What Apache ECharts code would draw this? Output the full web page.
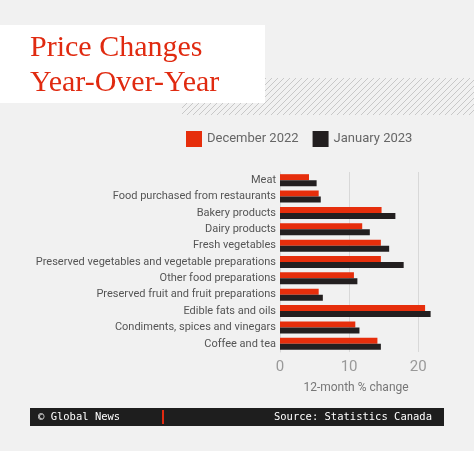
<!DOCTYPE html>
<html><head><meta charset="utf-8">
<script src="https://cdn.jsdelivr.net/npm/echarts@6/dist/echarts.min.js"></script>
<style>html,body{margin:0;padding:0;background:#f1f1f1}#c{width:474px;height:451px}</style>
</head><body><div id="c"></div>
<script>
var categories = ["Meat","Food purchased from restaurants","Bakery products","Dairy products","Fresh vegetables","Preserved vegetables and vegetable preparations","Other food preparations","Preserved fruit and fruit preparations","Edible fats and oils","Condiments, spices and vinegars","Coffee and tea"];
var dec2022 = [4.2,5.6,14.7,11.9,14.6,14.6,10.7,5.6,21.0,10.9,14.1];
var jan2023 = [5.3,5.9,16.7,13.0,15.8,17.9,11.2,6.2,21.8,11.5,14.6];
var seriesNames = ["December 2022","January 2023"];
var gridLines = [10,20];

var chart = echarts.init(document.getElementById('c'));
var g = [];
g.push({type:'rect',shape:{x:0,y:0,width:474,height:451},style:{fill:'#f1f1f1'},z:-10});
for (var x = 145; x < 520; x += 6) {
  var x1 = x, y1 = 115, x2 = x + 37, y2 = 78;
  if (x1 < 182) { y1 = 115 - (182 - x1); x1 = 182; }
  if (y1 <= y2) continue;
  g.push({type:'line',shape:{x1:x1,y1:y1,x2:x2,y2:y2},style:{stroke:'#c8c8c8',lineWidth:1},z:-5});
}
g.push({type:'rect',shape:{x:0,y:25,width:265,height:78},style:{fill:'#ffffff'},z:-3});
g.push({type:'text',left:30,top:31,style:{text:'Price Changes\nYear-Over-Year',font:'30px "Liberation Serif", serif',fill:'#e02a10',lineHeight:35},z:1});
g.push({type:'rect',shape:{x:30,y:408,width:414,height:18},style:{fill:'#1e1e1e'}});
g.push({type:'rect',shape:{x:162,y:410,width:2,height:14},style:{fill:'#e02a10'}});
g.push({type:'text',x:38,y:417,style:{text:'© Global News',font:'10.5px "DejaVu Sans Mono", monospace',fill:'#ffffff',verticalAlign:'middle'}});
g.push({type:'text',x:432,y:417,style:{text:'Source: Statistics Canada',font:'10.5px "DejaVu Sans Mono", monospace',fill:'#ffffff',align:'right',verticalAlign:'middle'}});

chart.setOption({
  animation:false,
  graphic:g,
  legend:{left:181,top:126,itemWidth:16,itemHeight:16,icon:'rect',itemGap:14,
    textStyle:{color:'#666',fontSize:13,fontFamily:'Roboto'},data:seriesNames},
  grid:{left:280,right:42,top:172,bottom:99,containLabel:false},
  xAxis:{type:'value',min:0,max:22,interval:10,
    name:'12-month % change',nameLocation:'middle',nameGap:30,
    nameTextStyle:{color:'#777',fontSize:12,fontFamily:'Roboto'},
    axisLabel:{color:'#999',fontSize:15,fontFamily:'Roboto',formatter:function(v){return v%10===0?v:'';}},
    axisLine:{show:false},axisTick:{show:false},splitLine:{show:false}},
  yAxis:{type:'category',inverse:true,data:categories,
    axisLine:{show:true,lineStyle:{color:'#d8d8d8'}},axisTick:{show:false},
    axisLabel:{color:'#555',fontSize:11,fontFamily:'Roboto',margin:4}},
  series:[
    {name:seriesNames[0],type:'bar',data:dec2022,itemStyle:{color:'#e62e0c'},barWidth:6,barGap:'0%',
     markLine:{silent:true,symbol:'none',label:{show:false},lineStyle:{color:'#d8d8d8',type:'solid',width:1},
       data:gridLines.map(function(v){return {xAxis:v};}),z:0}},
    {name:seriesNames[1],type:'bar',data:jan2023,itemStyle:{color:'#231f20'},barWidth:6}
  ]
});
</script></body></html>
